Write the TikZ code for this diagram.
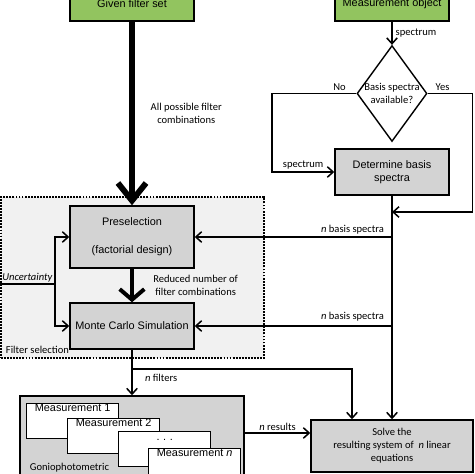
\documentclass[tikz,border=0pt]{standalone}
\usepackage{fontspec}
\setmainfont{Liberation Sans}
\newfontfamily\lblfont{Carlito}
\usetikzlibrary{shapes.geometric,arrows.meta,positioning}
\definecolor{boxgreen}{RGB}{146,196,95}
\definecolor{boxgray}{RGB}{211,211,211}
\definecolor{areagray}{RGB}{241,241,241}
\tikzset{
  grn/.style={rectangle,draw=black,line width=1.2pt,fill=boxgreen,align=center,
    minimum height=1.02cm,font=\fontsize{9.3}{11}\selectfont},
  gbox/.style={rectangle,draw=black,line width=1.2pt,fill=boxgray,align=center,
    font=\fontsize{9.3}{11}\selectfont},
  area/.style={rectangle,draw=black,densely dotted,line width=1.6pt,fill=areagray},
  decision/.style={diamond,draw=black,line width=1.2pt,fill=white,aspect=0.73,inner sep=0pt,
    minimum width=2.04cm,minimum height=2.79cm,align=center,font=\lblfont\fontsize{9}{11}\selectfont},
  meas/.style={rectangle,draw=black,line width=1.2pt,fill=white,anchor=north west,
    minimum width=2.76cm,minimum height=1.05cm,inner sep=0pt},
  mtxt/.style={anchor=north,inner sep=0.6pt,font=\fontsize{9.3}{11}\selectfont},
  lbl/.style={font=\lblfont\fontsize{9}{10.8}\selectfont,align=center,inner sep=1.5pt},
  arr/.style={-{Straight Barb[length=5pt,width=9pt]},line width=1.3pt},
  fatarr/.style={-{Straight Barb[length=15pt,width=24pt]},line width=5pt},
  midarr/.style={-{Straight Barb[length=9pt,width=21pt]},line width=3.4pt}
}
\begin{document}
\begin{tikzpicture}[x=0.03cm,y=-0.03cm]
    \useasboundingbox (0,0) rectangle (474,474);
    \clip (0,0) rectangle (474,474);

    % Filter selection area
    \node[area,minimum width=7.88cm,minimum height=4.83cm] (filtersel) at (132.5,277.5) {};
    \node[lbl,anchor=base west] (fsellbl) at (4,353) {Filter selection};

    % Inputs
    \node[grn,minimum width=3.72cm] (given) at (132,4) {Given filter set};
    \node[grn,minimum width=3.42cm] (measobj) at (392,4) {Measurement object};

    % Basis spectra
    \node[decision] (avail) at (392,93.5) {Basis spectra\\available?};
    \node[gbox,minimum width=3.42cm,minimum height=1.38cm] (determine) at (392,172) {Determine basis\\spectra};
    \coordinate (nocorner) at (272,93.5);
    \coordinate (yescorner) at (472.5,93.5);
    \coordinate (basisjoin) at (392,212);

    % Filter selection
    \node[gbox,minimum width=3.72cm,minimum height=1.86cm] (presel) at (132,237) {Preselection\\[13pt](factorial design)};
    \node[gbox,minimum width=3.72cm,minimum height=1.38cm] (mc) at (132,326) {Monte Carlo Simulation};
    \coordinate (uncsrc) at (0,284);
    \coordinate (uncfork) at (55,284);

    % Measurements
    \node[gbox,minimum width=6.72cm,minimum height=3.12cm] (gonio) at (132,448) {};
    \node[lbl,anchor=west] (goniolbl) at (28,468) {Goniophotometric};
    \node[meas,label={[mtxt]north:Measurement 1}] (meas1) at (26,403) {};
    \node[meas,label={[mtxt]north:Measurement 2}] (meas2) at (67,418) {};
    \node[meas,label={[mtxt,yshift=-6pt]north:{.\,\,.\,\,.}}] (meas3) at (118,431) {};
    \node[meas,minimum height=1.5cm,label={[mtxt]north:Measurement \textit{n}}] (measn) at (148,448) {};
    \coordinate (filterfork) at (132,369);

    % Solution
    \node[gbox,minimum width=4.86cm,minimum height=1.56cm,font=\lblfont\fontsize{9}{11}\selectfont] (solve) at (392,446)
      {Solve the\\resulting system of~~\textit{n} linear\\equations};

    % Arrows
    \draw[fatarr] (given) -- node[lbl,right=12pt] {All possible filter\\combinations} (presel);
    \draw[arr] (measobj) -- node[lbl,right=1pt] {spectrum} (avail);
    \draw[arr] (avail.west) -- node[lbl,above,pos=0.2] {No} (nocorner) |- node[lbl,above,pos=0.75] {spectrum} (determine.west);
    \draw[arr] (avail.east) -- node[lbl,above,pos=0.33] {Yes} (yescorner) |- (basisjoin);
    \draw[arr] (determine) -- (solve);
    \draw[arr] (presel.east -| determine.south) -- node[lbl,above,pos=0.2] {\textit{n} basis spectra} (presel.east);
    \draw[arr] (mc.east -| determine.south) -- node[lbl,above,pos=0.2,yshift=2pt] {\textit{n} basis spectra} (mc.east);
    \draw[midarr] (presel) -- node[lbl,right=15pt] {Reduced number of\\filter combinations} (mc);
    \draw[line width=1.3pt] (uncsrc) -- node[lbl,above,inner sep=0.5pt] {\textit{Uncertainty}} (uncfork);
    \draw[arr] (uncfork) |- (presel.west);
    \draw[arr] (uncfork) |- (mc.west);
    \draw[arr] (mc) -- node[lbl,right=9pt,pos=0.62] {\textit{n} filters} (gonio);
    \draw[arr] (filterfork) -| ([xshift=-1.2cm]solve.north);
    \draw[arr] ([yshift=0.45cm]gonio.east) -- node[lbl,above] {\textit{n} results} ([yshift=0.45cm]gonio.east -| solve.west);
  \end{tikzpicture}
\end{document}
